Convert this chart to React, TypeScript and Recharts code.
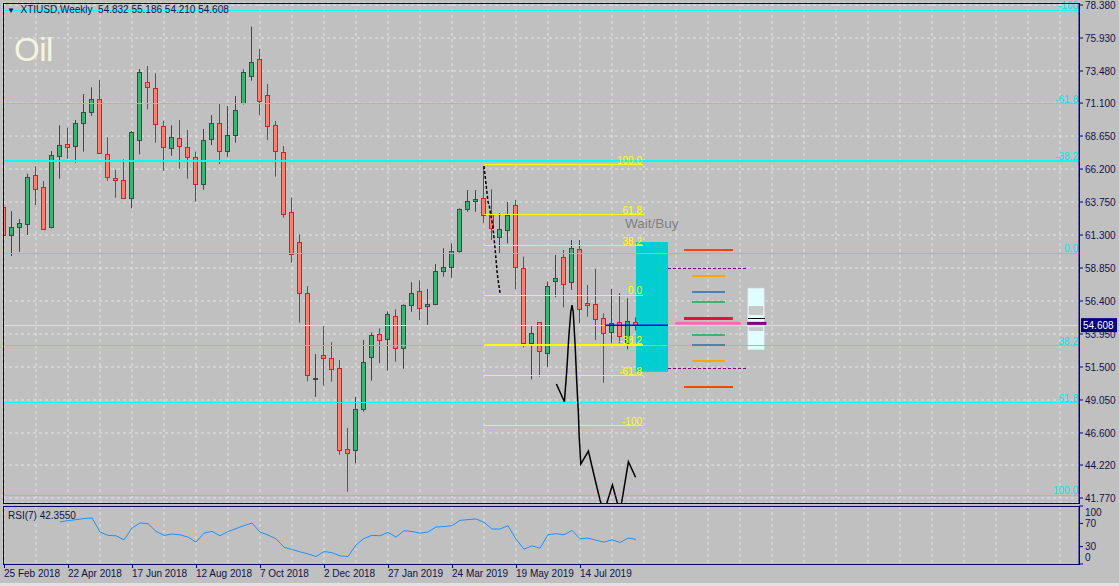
import React from "react";
import {
  ComposedChart, LineChart, Bar, Line, XAxis, YAxis, CartesianGrid,
  ReferenceLine, ReferenceArea,
} from "recharts";

// weekly XTIUSD candles, 25 Feb 2018 .. 25 Aug 2019
const OPEN = [
  63.40, 61.30, 61.87, 62.14, 65.76, 64.86, 61.87, 67.19, 68.04, 67.93,
  69.64, 70.41, 71.38, 67.29, 65.53, 65.36, 64.03, 68.35, 72.64, 72.19,
  69.37, 67.74, 68.50, 67.81, 67.07, 65.07, 68.41, 69.60, 67.56, 68.70,
  71.08, 73.13, 74.35, 71.67, 69.45, 67.44, 62.99, 60.76, 56.97, 50.58,
  52.37, 52.14, 51.40, 45.39, 45.31, 48.36, 52.22, 53.93, 53.56, 55.31,
  52.89, 56.08, 57.12, 56.01, 56.15, 58.65, 58.95, 60.09, 63.21, 63.80,
  64.03, 62.84, 61.13, 61.65, 63.51, 58.83, 53.26, 54.82, 52.52, 57.86,
  59.64, 57.79, 60.24, 56.23, 56.15, 55.11, 54.07, 54.82, 53.26, 54.832,
];
const HIGH = [
  64.14, 63.08, 62.49, 65.85, 66.42, 65.31, 67.54, 69.45, 69.27, 69.84,
  71.77, 72.27, 72.81, 68.56, 66.13, 66.92, 69.02, 73.63, 73.85, 73.31,
  69.79, 69.45, 69.84, 69.10, 67.49, 69.17, 70.21, 71.03, 70.88, 71.62,
  73.60, 76.77, 75.11, 72.51, 69.77, 67.91, 64.10, 61.35, 57.51, 52.46,
  54.54, 53.35, 52.02, 46.97, 49.27, 53.50, 54.07, 54.37, 55.63, 55.78,
  56.15, 57.79, 57.94, 57.29, 59.15, 60.31, 60.68, 63.28, 64.64, 64.64,
  66.42, 64.69, 62.91, 63.75, 63.90, 59.69, 54.54, 54.84, 57.86, 59.82,
  60.19, 60.93, 60.93, 57.59, 58.78, 55.49, 57.29, 56.99, 56.60, 55.186,
];
const LOW = [
  59.96, 59.74, 60.06, 61.30, 63.53, 61.67, 61.80, 65.48, 66.97, 66.67,
  67.49, 70.14, 67.30, 65.33, 64.07, 64.00, 63.28, 67.29, 70.63, 68.16,
  66.07, 67.19, 66.22, 65.48, 63.77, 64.66, 67.98, 66.57, 67.11, 68.16,
  71.00, 72.76, 70.21, 68.35, 65.63, 62.59, 59.24, 54.79, 50.44, 49.29,
  50.11, 50.41, 44.99, 42.24, 44.35, 48.18, 50.48, 51.77, 51.22, 51.89,
  51.37, 55.60, 54.99, 54.62, 56.10, 58.20, 58.13, 60.00, 63.03, 63.03,
  62.21, 60.93, 59.94, 60.68, 57.27, 52.96, 50.58, 50.78, 51.52, 56.67,
  55.93, 57.22, 54.74, 55.23, 53.50, 50.33, 53.30, 53.26, 52.81, 54.210,
];
const CLOSE = [
  61.30, 61.87, 62.19, 65.61, 64.74, 61.75, 67.22, 67.96, 67.81, 69.60,
  70.41, 71.38, 67.37, 65.58, 65.41, 64.03, 68.93, 73.38, 72.27, 69.52,
  67.81, 68.56, 67.89, 67.07, 65.07, 68.33, 69.60, 67.56, 68.70, 70.58,
  73.38, 74.12, 71.27, 69.42, 67.56, 62.84, 59.87, 56.97, 50.88, 50.68,
  52.14, 51.33, 45.31, 45.09, 48.36, 51.85, 53.87, 53.48, 55.41, 52.89,
  56.08, 57.02, 55.86, 56.18, 58.60, 58.90, 60.09, 63.21, 63.80, 63.95,
  62.76, 61.80, 61.72, 62.76, 58.90, 53.26, 54.00, 52.66, 57.49, 58.08,
  57.64, 60.31, 55.78, 56.08, 55.04, 54.00, 54.74, 53.78, 54.89, 54.608,
];
const RSI7 = [
  null, null, null, null, null, null, null, 72.5, 74.8, 76.5,
  78.3, 79.4, 55.1, 49.3, 48.7, 41.7, 62.0, 70.7, 69.6, 56.2,
  49.3, 51.6, 50.4, 46.4, 37.7, 53.3, 56.2, 48.7, 56.0, 61.0,
  66.1, 70.7, 55.1, 50.0, 43.5, 29.0, 25.0, 21.0, 17.4, 12.8,
  21.4, 19.7, 13.9, 12.8, 33.0, 44.0, 49.5, 48.7, 54.4, 46.4,
  57.4, 56.0, 53.3, 55.1, 63.8, 64.5, 66.1, 75.3, 76.5, 77.7,
  71.8, 60.3, 60.3, 66.1, 42.9, 25.5, 31.3, 27.2, 50.4, 52.2,
  50.4, 58.0, 43.5, 44.6, 41.0, 37.7, 41.7, 37.1, 44.6, 42.355,
];

const DATE_LABELS = [
  "25 Feb 2018", "22 Apr 2018", "17 Jun 2018", "12 Aug 2018", "7 Oct 2018",
  "2 Dec 2018", "27 Jan 2019", "24 Mar 2019", "19 May 2019", "14 Jul 2019",
];
const PRICE_TICKS = [
  78.38, 75.93, 73.48, 71.1, 68.65, 66.2, 63.75, 61.3, 58.85, 56.4,
  53.95, 51.5, 49.05, 46.6, 44.22, 41.77,
];
const RSI_TICKS = [0, 30, 70, 100];

// small fibo drawn from the April 2019 high
const FIB_SMALL_LABELS = ["100.0", "61.8", "38.2", "0.0", "-38.2", "-61.8", "-100"];
const FIB_SMALL_PRICES = [66.5, 62.8, 60.52, 56.82, 53.12, 50.84, 47.14];
const FIB_SMALL_SPAN = [60, 79.875];

// large fibo across the whole chart
const FIB_BIG_LABELS = ["-100", "-61.8", "-38.2", "0.0", "38.2", "61.8", "100.0"];
const FIB_BIG_PRICES = [78.0, 71.03, 66.8, 59.94, 53.08, 48.85, 41.99];

// projection lines
const PROJ_X = [60, 60.5, 60.65, 60.85, 61.1, 61.4, 61.65, 62];
const PROJ_Y = [66.42, 63.77, 63.53, 62.79, 61.97, 60.19, 58.46, 56.97];
const ZZ_X = [69.05, 70.05, 70.35, 70.6, 70.85, 71, 71.15, 71.4, 71.6, 71.8, 71.9, 72.1, 73.05, 73.8, 74.5, 75, 76.05, 77, 78.05, 78.95];
const ZZ_Y = [50.24, 48.92, 51.27, 53.75, 55.6, 56.1, 55.6, 53.01, 50.29, 48.06, 46.32, 44.29, 45.26, 43.35, 41.62, 40.7, 42.74, 40.7, 44.46, 43.31];

// signal zone and levels on the right
const ZONE_X = [79, 83];
const ZONE_Y = [51.15, 60.78];
const CURRENT_SPAN = [75.16, 83];
const LEVEL_OUTER = [60.19, 50.03];
const LEVEL_PURPLE = [58.83, 51.4];
const LEVEL_ORANGE = [58.28, 51.97];
const LEVEL_BLUE = [57.09, 53.13];
const LEVEL_GREEN = [56.35, 53.87];
const LEVEL_MID = 55.11;
const LEVEL_PINK = 54.74;
const MINI_X = [93, 95];
const MINI_Y = [52.81, 57.34];
const MINI_GAPS = [[55.36, 56.03], [54.17, 54.49]];

const X_MIN = -0.125;
const X_MAX = 134.375;
const GRID_TICKS = Array.from({ length: 34 }, (_, k) => k * 4);

const NAVY = "#000080";
const TEXT = "#10104e";
const CYAN = "#00ffff";
const YELLOW = "#ffff00";
const FONT = "'Liberation Sans', Arial, sans-serif";

const rows = OPEN.map((o, i) => ({ i, o, h: HIGH[i], l: LOW[i], c: CLOSE[i], rsi: RSI7[i] }));
const projData = PROJ_X.map((i, k) => ({ i, v: PROJ_Y[k] }));
const zzData = ZZ_X.map((i, k) => ({ i, v: ZZ_Y[k] }));
const last = CLOSE[CLOSE.length - 1];

function Candle(props: any) {
  const { x, y, width, height, payload } = props;
  if (!payload || height == null) return null;
  const { o, h, l, c } = payload;
  const top = Math.min(y, y + height);
  const span = Math.abs(height);
  const k = span / Math.max(h - l, 1e-6);
  const cx = Math.floor(x + width / 2) + 0.5;
  const up = c >= o;
  const yo = top + (h - o) * k;
  const yc = top + (h - c) * k;
  const bTop = Math.round(Math.min(yo, yc)) + 0.5;
  const bBot = Math.round(Math.max(yo, yc)) + 0.5;
  const edge = up ? "#2f4f4f" : "#d41c2c";
  return (
    <g>
      <line x1={cx} x2={cx} y1={top} y2={top + span} stroke={edge} />
      <rect x={cx - 2} y={bTop} width={4} height={Math.max(bBot - bTop, 1)}
        fill={up ? "#3cb371" : "#fa8072"} stroke={edge} />
    </g>
  );
}

function PriceTag(props: any) {
  const vb = props.viewBox;
  if (!vb) return null;
  const x = vb.x + vb.width + 2;
  return (
    <g>
      <rect x={x} y={vb.y - 7} width={36} height={14} fill={NAVY} />
      <text x={x + 2} y={vb.y} dy="0.35em" fill="#ffffff" fontSize={10}>{last.toFixed(3)}</text>
    </g>
  );
}

function DateTick(props: any) {
  const { x, y, payload } = props;
  const k = payload.value / 8;
  const label = Number.isInteger(k) ? DATE_LABELS[k] : undefined;
  if (!label) return null;
  const px = Math.round(x) + 0.5;
  return (
    <g>
      <line x1={px} x2={px} y1={y} y2={y + 4} stroke={NAVY} />
      <text x={px - 0.5} y={y + 13} fill={TEXT} fontSize={10} textAnchor="start">{label}</text>
    </g>
  );
}

function RsiTick(props: any) {
  const { x, y, payload } = props;
  const v = payload.value;
  const yy = v === 100 ? y + 6 : v === 0 ? y - 7 : y;
  return (
    <text x={x} y={yy} dy="0.355em" fill={TEXT} fontSize={10} textAnchor="start">{v}</text>
  );
}

function seg(x1: number, x2: number, y: number) {
  return [{ x: x1, y }, { x: x2, y }];
}

export default function App() {
  const sideLevels: { p: number[]; span: number[]; color: string; w: number; dash?: string }[] = [
    { p: LEVEL_OUTER, span: [85, 91.1], color: "#ff4500", w: 2 },
    { p: LEVEL_PURPLE, span: [83, 93], color: "#800080", w: 1.5, dash: "3 2" },
    { p: LEVEL_ORANGE, span: [86, 90.1], color: "#ffa500", w: 2 },
    { p: LEVEL_BLUE, span: [86, 90.1], color: "#4682b4", w: 2 },
    { p: LEVEL_GREEN, span: [86, 90.1], color: "#3cb371", w: 2 },
  ];

  return (
    <div style={{ position: "absolute", left: 0, top: 0, width: 1119, height: 586, background: "#c0c0c0", overflow: "hidden", fontFamily: FONT }}>
      <div style={{ position: "absolute", left: 0, top: 0 }}>
        <ComposedChart width={1119} height={506} data={rows} margin={{ top: 3, right: 0, bottom: 3, left: 3 }}>
          <CartesianGrid stroke="#e4e4e4" strokeDasharray="3 3" />
          <XAxis hide type="number" dataKey="i" domain={[X_MIN, X_MAX]} ticks={GRID_TICKS} allowDataOverflow />
          <YAxis orientation="right" width={40} domain={[41.4, 78.53]} ticks={PRICE_TICKS} allowDataOverflow
            interval={0} tickSize={4} tickMargin={2} stroke={NAVY}
            tick={{ fill: TEXT, fontSize: 10, textAnchor: "start" }}
            tickFormatter={(v: number) => v.toFixed(3)} />

          <ReferenceArea x1={ZONE_X[0]} x2={ZONE_X[1]} y1={ZONE_Y[0]} y2={ZONE_Y[1]} fill="#00ced1" fillOpacity={1} stroke="none" />
          <ReferenceArea x1={MINI_X[0]} x2={MINI_X[1]} y1={MINI_Y[0]} y2={MINI_Y[1]} fill="#e0ffff" fillOpacity={1} stroke="#e6e6fa" />
          {MINI_GAPS.map((g, k) => (
            <ReferenceArea key={"g" + k} x1={MINI_X[0] + 0.1} x2={MINI_X[1] - 0.1} y1={g[0]} y2={g[1]} fill="#c8c8c8" fillOpacity={1} stroke="none" />
          ))}

          {FIB_BIG_PRICES.map((p, k) => (
            <ReferenceLine key={"b" + k} y={p} stroke={CYAN} strokeWidth={k === 2 ? 2 : 1} shapeRendering="crispEdges"
              label={{ value: FIB_BIG_LABELS[k], position: "insideBottomRight", fill: "#00e5ee", fontSize: 10, offset: 1 }} />
          ))}
          <ReferenceLine y={last} stroke="#e0e0e0" shapeRendering="crispEdges" label={<PriceTag />} />

          {FIB_SMALL_PRICES.map((p, k) => (
            <ReferenceLine key={"s" + k} segment={seg(FIB_SMALL_SPAN[0], FIB_SMALL_SPAN[1], p)}
              stroke={YELLOW} strokeWidth={k === 4 ? 2 : 1} shapeRendering="crispEdges"
              label={{ value: FIB_SMALL_LABELS[k], position: "insideBottomRight", fill: YELLOW, fontSize: 10, offset: 1 }} />
          ))}

          {sideLevels.flatMap((s, k) => s.p.map((p, j) => (
            <ReferenceLine key={"l" + k + "-" + j} segment={seg(s.span[0], s.span[1], p)}
              stroke={s.color} strokeWidth={s.w} strokeDasharray={s.dash} shapeRendering="crispEdges" />
          )))}
          <ReferenceLine segment={seg(85, 91.1, LEVEL_MID)} stroke="#dc143c" strokeWidth={3} />
          <ReferenceLine segment={seg(83.9, 92.1, LEVEL_PINK)} stroke="#ff69b4" strokeWidth={3} />
          <ReferenceLine segment={seg(92.96, 95.15, LEVEL_MID)} stroke="#000000" strokeWidth={1} shapeRendering="crispEdges" />
          <ReferenceLine segment={seg(92.9, 95.3, LEVEL_PINK)} stroke="#800080" strokeWidth={3} />
          <ReferenceLine segment={seg(CURRENT_SPAN[0], CURRENT_SPAN[1], last)} stroke="#0000ff" strokeWidth={1.5} />

          <Bar dataKey={(d: any) => [d.l, d.h]} barSize={5} shape={Candle} isAnimationActive={false} />
          <Line data={projData} dataKey="v" stroke="#000000" strokeWidth={1.5} strokeDasharray="3 2" dot={false} isAnimationActive={false} />
          <Line data={zzData} dataKey="v" stroke="#000000" strokeWidth={1.5} dot={false} isAnimationActive={false} />
        </ComposedChart>
      </div>

      <div style={{ position: "absolute", left: 0, top: 504 }}>
        <LineChart width={1119} height={82} data={rows} margin={{ top: 2, right: 0, bottom: 0, left: 3 }}>
          <CartesianGrid horizontal={false} stroke="#e4e4e4" strokeDasharray="3 3" />
          <XAxis type="number" dataKey="i" domain={[X_MIN, X_MAX]} ticks={GRID_TICKS} interval={0}
            allowDataOverflow height={22} tickSize={0} tickMargin={0} axisLine={false} tickLine={false}
            tick={<DateTick />} />
          <YAxis orientation="right" width={40} domain={[0, 100]} ticks={RSI_TICKS} interval={0}
            tickSize={4} tickMargin={2} stroke={NAVY} tick={<RsiTick />} />
          <Line dataKey="rsi" stroke="#1e90ff" strokeWidth={1} dot={false} isAnimationActive={false} />
        </LineChart>
      </div>

      <div style={{ position: "absolute", left: 3, top: 3, width: 1077, height: 501, boxSizing: "border-box", border: `1px solid ${NAVY}`, pointerEvents: "none" }} />
      <div style={{ position: "absolute", left: 3, top: 506, width: 1077, height: 59, boxSizing: "border-box", border: `1px solid ${NAVY}`, pointerEvents: "none" }} />
      <div style={{ position: "absolute", left: 0, top: 583, width: 1119, height: 3, background: "#e2e2e2" }} />

      <div style={{ position: "absolute", left: 7, top: 4, fontSize: 10, lineHeight: "12px", color: TEXT, whiteSpace: "pre" }}>
        <span style={{ fontSize: 8 }}>▼</span>{"  XTIUSD,Weekly  54.832 55.186 54.210 54.608"}
      </div>
      <div style={{ position: "absolute", left: 14, top: 33, fontSize: 33, lineHeight: "34px", color: "#f5f5dc", letterSpacing: -0.5 }}>Oil</div>
      <div style={{ position: "absolute", left: 625, top: 216, fontSize: 13.5, lineHeight: "16px", color: "#808080" }}>Wait/Buy</div>
      <div style={{ position: "absolute", left: 8, top: 510, fontSize: 10, lineHeight: "12px", color: TEXT }}>RSI(7) 42.3550</div>
    </div>
  );
}
